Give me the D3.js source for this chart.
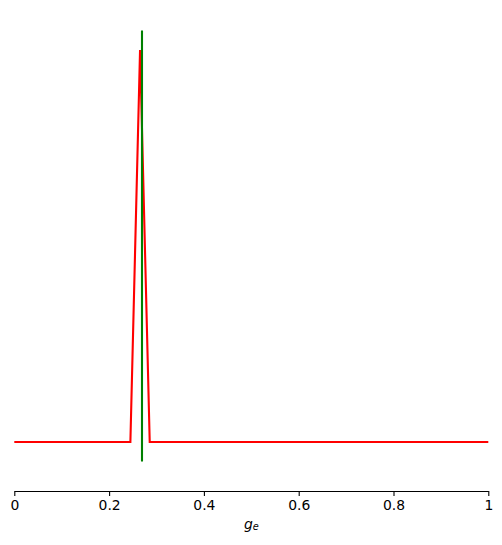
<!DOCTYPE html>
<html>
<head>
<meta charset="utf-8">
<script src="https://cdn.jsdelivr.net/npm/d3@7"></script>
<style>
  body { margin: 0; background: #fff; }
  svg { display: block; }
  text { font-family: "DejaVu Sans", sans-serif; }
</style>
</head>
<body>
<svg id="chart"></svg>
<script>
// data
const gValues = [0, 0.2449, 0.2653, 0.2857, 1];
const density = [0, 0, 1, 0, 0];
const markerG = 0.2694;
const tickValues = [0, 0.2, 0.4, 0.6, 0.8, 1];
const tickLabels = ["0", "0.2", "0.4", "0.6", "0.8", "1"];

const width = 502;
const height = 545;
const plot = {left: 14.3, right: 488.3, top: 30.4, bottom: 461.6};
const axisY = 491;

const svg = d3.select('#chart')
    .attr('width', width)
    .attr('height', height);

const x = d3.scaleLinear()
    .domain([0, 1])
    .range([plot.left, plot.right]);

const y = d3.scaleLinear()
    .domain([-0.05, 1.05])
    .range([plot.bottom, plot.top]);

// x axis, pushed down below the plot area
const axis = svg.append('g')
    .attr('transform', 'translate(0,' + axisY + ')')
    .call(d3.axisBottom(x)
        .tickValues(tickValues)
        .tickFormat((d, i) => tickLabels[i])
        .tickSize(4.9)
        .tickSizeOuter(0)
        .tickPadding(4.2));
axis.select('.domain').attr('stroke', '#000').attr('stroke-width', 1.1);
axis.selectAll('.tick line').attr('stroke', '#000').attr('stroke-width', 1.1);
axis.selectAll('.tick text')
    .attr('fill', '#000')
    .style('font-size', '13.9px')
    .style('font-family', '"DejaVu Sans", sans-serif');

// axis label g_e
const label = svg.append('text')
    .attr('x', x(0.5))
    .attr('y', 528.5)
    .attr('text-anchor', 'middle')
    .style('font-size', '13.9px');
label.append('tspan').style('font-style', 'italic').text('g');
label.append('tspan')
    .style('font-style', 'italic')
    .style('font-size', '9.7px')
    .attr('dy', 1.4)
    .text('e');

// red curve
const line = d3.line()
    .x((d, i) => x(gValues[i]))
    .y(d => y(d));

svg.append('path')
    .datum(density)
    .attr('d', line)
    .attr('fill', 'none')
    .attr('stroke', 'red')
    .attr('stroke-width', 2.1)
    .attr('stroke-linejoin', 'miter');

// green marker line spanning the plot height
svg.append('line')
    .attr('x1', x(markerG))
    .attr('x2', x(markerG))
    .attr('y1', plot.top)
    .attr('y2', plot.bottom)
    .attr('stroke', 'green')
    .attr('stroke-width', 2.1);
</script>
</body>
</html>
